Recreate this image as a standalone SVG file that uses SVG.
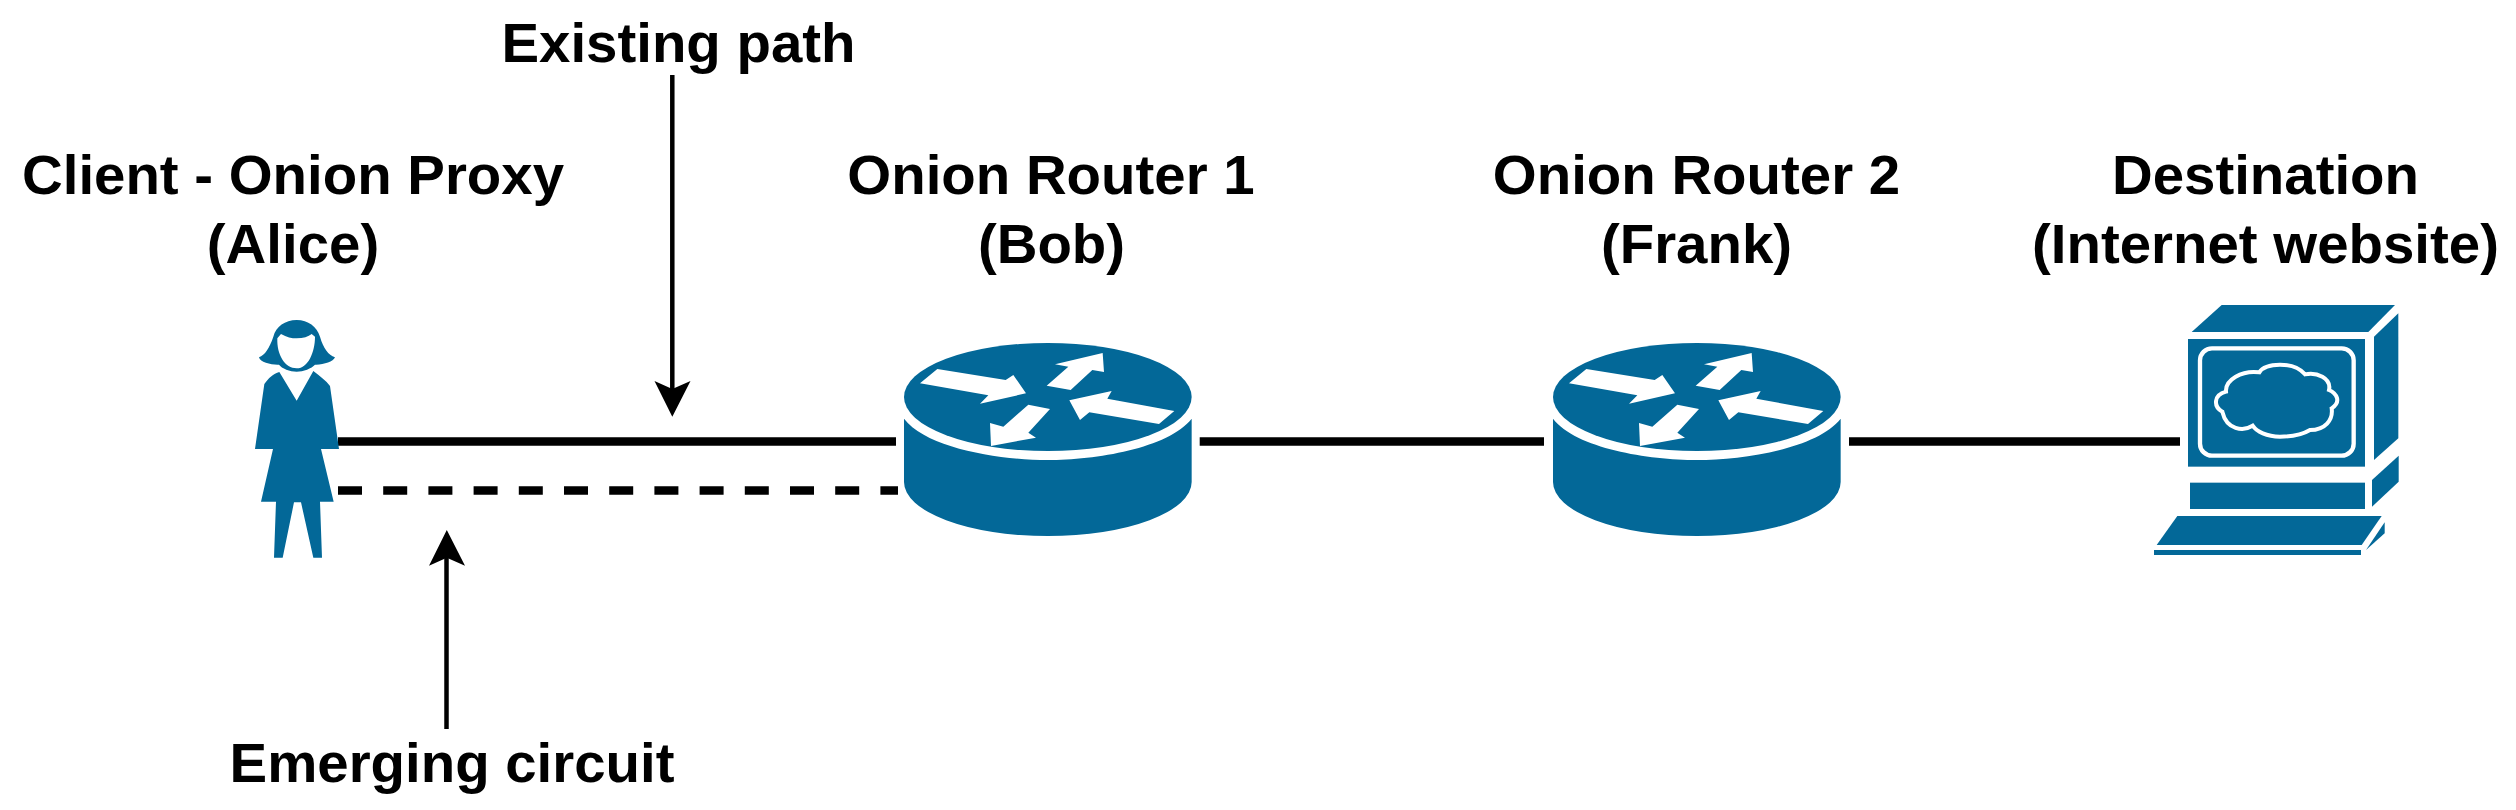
<svg xmlns="http://www.w3.org/2000/svg" width="2516" height="810" viewBox="0 0 2516 810">
<style>
text{font-family:"Liberation Sans",Arial,sans-serif;font-weight:700;font-size:56.4px;fill:#000;text-anchor:middle}
.ic{fill:#036898}
.wh{fill:#fff}
.ln{stroke:#000;stroke-width:8.6;fill:none}
.ar{stroke:#000;stroke-width:4.5;fill:none}
</style>
<defs>
<g id="router">
<path class="ic" d="M132,231A431,162 0 0 1 995,231A431,162 0 0 1 132,231Z"/>
<path class="ic" d="M132,296C200,385 420,420 563,420C706,420 925,385 995,296V486A431,162 0 0 1 132,486Z"/>
<path class="wh" d="M232,147L437,180L460,165L498,220L360,251L385,226L180,190Z"/>
<path class="wh" d="M560,197L625,140L585,133L728,99L732,156L697,150L632,210Z"/>
<path class="wh" d="M628,241L755,213L742,236L943,273L897,312L688,277L660,300Z"/>
<path class="wh" d="M505,254L570,267L505,338L528,353L393,378L390,309L430,320Z"/>
</g>
</defs>
<rect width="2516" height="810" fill="#fff"/>
<g id="connectors">
<path class="ln" d="M338,441.5H896M1199.7,441.5H1544M1849,441.5H2180"/>
<path class="ln" d="M338,490.5H898" stroke-dasharray="24 21.2"/>
<path class="ar" d="M672.3,75V392"/>
<path d="M672.3,416.7L654.5,381L672.3,389L690.5,381Z"/>
<path class="ar" d="M446.5,729V555"/>
<path d="M446.8,530L429,565.7L446.8,557.7L465,565.7Z"/>
</g>
<g id="client" transform="translate(200 280) scale(.33333)">
<path class="ic" d="M177,232C195,225 208,205 220,170C228,140 255,120 290,120C325,120 350,140 360,170C370,205 385,225 405,232C400,245 370,255 345,254C335,265 310,275 290,275C270,275 245,265 237,254C215,255 180,248 177,232Z"/>
<path class="wh" d="M232,175L243,162C260,172 275,175 290,175C310,175 325,170 335,162L345,170C345,215 325,265 290,265C255,265 230,225 232,175Z"/>
<path class="ic" d="M238,276L290,362L340,273C360,288 378,302 390,318L417,507H363L401,665H360L366,833H340L303,667H282L248,833H222L228,665H183L219,507H165L193,312C205,295 220,280 238,276Z"/>
</g>
<g id="router1" transform="translate(860 320) scale(.33333)"><use href="#router"/></g>
<g id="router2" transform="translate(1509 320) scale(.33333)"><use href="#router"/></g>
<g id="destination" transform="translate(2120 280) scale(.33333)">
<path class="ic" d="M305,75H825L745,156H215Z"/>
<path class="ic" d="M835,100V475L762,540V170Z"/>
<rect class="ic" x="204" y="177" width="531" height="383"/>
<rect x="240" y="205" width="461" height="322" rx="36" fill="none" stroke="#fff" stroke-width="13"/>
<path fill="none" stroke="#fff" stroke-width="12" d="M418,277C430,258 460,254 480,254C515,254 540,265 555,283C590,275 635,295 627,330C650,340 665,365 635,385C640,420 615,450 570,450C545,465 510,470 480,470C440,470 410,455 398,437C370,455 320,450 307,395C280,380 280,345 318,335C315,300 365,270 418,277Z"/>
<rect class="ic" x="210" y="608" width="525" height="79"/>
<path class="ic" d="M836,527V605L756,680V600Z"/>
<path class="ic" d="M172,708H785L725,795H110Z"/>
<rect class="ic" x="102" y="810" width="621" height="15"/>
<path class="ic" d="M794,727V760L738,810Z"/>
</g>
<g id="labels">
<text x="678.5" y="62">Existing path</text>
<text x="293" y="194">Client - Onion Proxy</text>
<text x="293" y="263">(Alice)</text>
<text x="1051" y="194">Onion Router 1</text>
<text x="1051.5" y="263">(Bob)</text>
<text x="1696.5" y="194">Onion Router 2</text>
<text x="1696.5" y="263">(Frank)</text>
<text x="2265.5" y="194">Destination</text>
<text x="2265.5" y="263">(Internet website)</text>
<text x="452" y="782">Emerging circuit</text>
</g>
</svg>
